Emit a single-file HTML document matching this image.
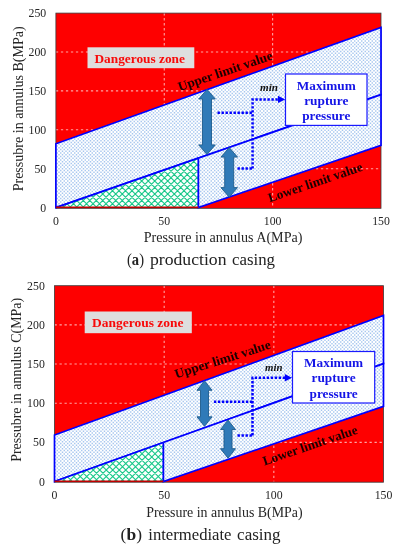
<!DOCTYPE html>
<html><head><meta charset="utf-8"><title>Figure</title>
<style>
html,body{margin:0;padding:0;background:#fff;}
body{width:400px;height:550px;overflow:hidden;font-family:"Liberation Serif",serif;}
svg{display:block}
.grid{stroke:#ffffff;stroke-width:1.1;stroke-dasharray:2.3 2.7;opacity:.64}
.band{fill:url(#dots);stroke:#0000ff;stroke-width:1.7;stroke-linejoin:miter}
.bl{stroke:#0000ff;stroke-width:1.7}
.tick{font:11.8px "Liberation Serif",serif;fill:#262626}
.axt{font:14px "Liberation Serif",serif;fill:#262626}
.ayt{font:14px "Liberation Serif",serif;fill:#262626}
.dz{font:bold 13.2px "Liberation Serif",serif;fill:#f80a0a}
.lim{font:bold 13px "Liberation Serif",serif;fill:#1a0000}
.min{font:italic bold 10.5px "Liberation Serif",serif;fill:#111}
.mx{font:bold 13.2px "Liberation Serif",serif;fill:#1414e6}
.dot{fill:none;stroke:#0000ff;stroke-width:2.5;stroke-dasharray:2.4 1.6}
.cap{font:15.7px "Liberation Serif",serif;fill:#222}
</style></head><body>
<svg width="400" height="550" viewBox="0 0 400 550">
<defs>
<pattern id="dots" width="7" height="7" patternUnits="userSpaceOnUse">
<rect width="7" height="7" fill="#ffffff"/>
<path d="M-1.2,0.05h1.4v1.4h-1.4zM-1.2,3.55h1.4v1.4h-1.4zM0.55,1.8h1.4v1.4h-1.4zM0.55,5.3h1.4v1.4h-1.4zM2.3,0.05h1.4v1.4h-1.4zM2.3,3.55h1.4v1.4h-1.4zM4.05,1.8h1.4v1.4h-1.4zM4.05,5.3h1.4v1.4h-1.4zM5.8,0.05h1.4v1.4h-1.4zM5.8,3.55h1.4v1.4h-1.4z" fill="#a6c6ef"/>
</pattern>
</defs>
<rect width="400" height="550" fill="#ffffff"/>
<rect x="55.9" y="13.1" width="325.1" height="195.2" fill="#fe0000"/>
<line x1="55.9" y1="168.70" x2="381" y2="168.70" class="grid"/>
<line x1="55.9" y1="129.80" x2="381" y2="129.80" class="grid"/>
<line x1="55.9" y1="90.90" x2="381" y2="90.90" class="grid"/>
<line x1="55.9" y1="52.00" x2="381" y2="52.00" class="grid"/>
<line x1="164.27" y1="13.1" x2="164.27" y2="207.6" class="grid"/>
<line x1="272.63" y1="13.1" x2="272.63" y2="207.6" class="grid"/>
<rect x="55.9" y="13.1" width="325.1" height="195.2" fill="none" stroke="#3a3a3a" stroke-width="0.8"/>
<polygon points="55.90,207.60 55.90,143.80 381.00,27.42 381.00,94.63" class="band"/>
<polygon points="198.29,207.60 198.29,158.12 381.00,94.63 381.00,145.36" class="band"/>
<clipPath id="tri1"><polygon points="55.90,207.60 198.29,158.12 198.29,207.60"/></clipPath>
<polygon points="55.90,207.60 198.29,158.12 198.29,207.60" fill="#fbfffd" stroke="none"/>
<path d="M53.90,2.15L200.29,148.54M53.90,8.65L200.29,155.04M53.90,15.15L200.29,161.54M53.90,21.65L200.29,168.04M53.90,28.15L200.29,174.54M53.90,34.65L200.29,181.04M53.90,41.15L200.29,187.54M53.90,47.65L200.29,194.04M53.90,54.15L200.29,200.54M53.90,60.65L200.29,207.04M53.90,67.15L200.29,213.54M53.90,73.65L200.29,220.04M53.90,80.15L200.29,226.54M53.90,86.65L200.29,233.04M53.90,93.15L200.29,239.54M53.90,99.65L200.29,246.04M53.90,106.15L200.29,252.54M53.90,112.65L200.29,259.04M53.90,119.15L200.29,265.54M53.90,125.65L200.29,272.04M53.90,132.15L200.29,278.54M53.90,138.65L200.29,285.04M53.90,145.15L200.29,291.54M53.90,151.65L200.29,298.04M53.90,158.15L200.29,304.54M53.90,164.65L200.29,311.04M53.90,171.15L200.29,317.54M53.90,177.65L200.29,324.04M53.90,184.15L200.29,330.54M53.90,190.65L200.29,337.04M53.90,197.15L200.29,343.54M53.90,203.65L200.29,350.04M53.90,210.15L200.29,356.54M53.90,216.65L200.29,363.04M53.90,151.85L200.29,5.46M53.90,158.35L200.29,11.96M53.90,164.85L200.29,18.46M53.90,171.35L200.29,24.96M53.90,177.85L200.29,31.46M53.90,184.35L200.29,37.96M53.90,190.85L200.29,44.46M53.90,197.35L200.29,50.96M53.90,203.85L200.29,57.46M53.90,210.35L200.29,63.96M53.90,216.85L200.29,70.46M53.90,223.35L200.29,76.96M53.90,229.85L200.29,83.46M53.90,236.35L200.29,89.96M53.90,242.85L200.29,96.46M53.90,249.35L200.29,102.96M53.90,255.85L200.29,109.46M53.90,262.35L200.29,115.96M53.90,268.85L200.29,122.46M53.90,275.35L200.29,128.96M53.90,281.85L200.29,135.46M53.90,288.35L200.29,141.96M53.90,294.85L200.29,148.46M53.90,301.35L200.29,154.96M53.90,307.85L200.29,161.46M53.90,314.35L200.29,167.96M53.90,320.85L200.29,174.46M53.90,327.35L200.29,180.96M53.90,333.85L200.29,187.46M53.90,340.35L200.29,193.96M53.90,346.85L200.29,200.46M53.90,353.35L200.29,206.96M53.90,359.85L200.29,213.46" clip-path="url(#tri1)" stroke="#16c788" stroke-width="1.1" fill="none"/>
<line x1="55.90" y1="207.60" x2="198.29" y2="158.12" class="bl"/>
<line x1="198.29" y1="207.60" x2="198.29" y2="158.12" class="bl"/>
<line x1="55.90" y1="207.30" x2="198.29" y2="207.30" stroke="#c00000" stroke-width="1.6"/>
<text x="46.2" y="211.70" class="tick" text-anchor="end">0</text>
<text x="46.2" y="172.80" class="tick" text-anchor="end">50</text>
<text x="46.2" y="133.90" class="tick" text-anchor="end">100</text>
<text x="46.2" y="95.00" class="tick" text-anchor="end">150</text>
<text x="46.2" y="56.10" class="tick" text-anchor="end">200</text>
<text x="46.2" y="17.20" class="tick" text-anchor="end">250</text>
<text x="55.90" y="225.1" class="tick" text-anchor="middle">0</text>
<text x="164.27" y="225.1" class="tick" text-anchor="middle">50</text>
<text x="272.63" y="225.1" class="tick" text-anchor="middle">100</text>
<text x="381.00" y="225.1" class="tick" text-anchor="middle">150</text>
<text transform="translate(23,108.85) rotate(-90)" class="ayt" text-anchor="middle" textLength="165" lengthAdjust="spacingAndGlyphs">Pressubre in annulus B(MPa)</text>
<text x="223.1" y="242" class="axt" text-anchor="middle" textLength="158.7" lengthAdjust="spacingAndGlyphs">Pressure in annulus A(MPa)</text>
<rect x="87.5" y="47.3" width="106.80000000000001" height="20.900000000000006" fill="#dedede"/>
<text x="139.70000000000002" y="63.2" class="dz" text-anchor="middle" textLength="90.5" lengthAdjust="spacingAndGlyphs">Dangerous zone</text>
<text transform="translate(179.8,91.2) rotate(-18.9)" class="lim" textLength="99" lengthAdjust="spacingAndGlyphs">Upper limit value</text>
<text transform="translate(269.7,202.3) rotate(-18.8)" class="lim" textLength="99" lengthAdjust="spacingAndGlyphs">Lower limit value</text>
<polygon points="207.00,89.40 215.30,99.00 211.50,99.00 211.50,144.90 215.30,144.90 207.00,154.50 198.70,144.90 202.50,144.90 202.50,99.00 198.70,99.00" fill="#2f7ab8" stroke="#1f5c8c" stroke-width="0.9"/>
<polygon points="229.20,147.50 237.50,157.10 233.70,157.10 233.70,187.60 237.50,187.60 229.20,197.20 220.90,187.60 224.70,187.60 224.70,157.10 220.90,157.10" fill="#2f7ab8" stroke="#1f5c8c" stroke-width="0.9"/>
<path d="M217.5,112.8 H252.6 M237.5,168.6 H252.6 M252.6,168.6 V99.4 H280.2" class="dot"/>
<polygon points="285.2,99.4 278.0,95.7 278.0,103.10000000000001" fill="#0000ff"/>
<text x="260" y="91" class="min" textLength="18" lengthAdjust="spacingAndGlyphs">min</text>
<rect x="285.5" y="74" width="81.5" height="51.400000000000006" fill="#ffffff" stroke="#1a1aff" stroke-width="1.2"/>
<text x="326.25" y="89.70" class="mx" text-anchor="middle" textLength="59" lengthAdjust="spacingAndGlyphs">Maximum</text>
<text x="326.25" y="105.00" class="mx" text-anchor="middle" textLength="44.2" lengthAdjust="spacingAndGlyphs">rupture</text>
<text x="326.25" y="120.30" class="mx" text-anchor="middle" textLength="48.2" lengthAdjust="spacingAndGlyphs">pressure</text>
<text y="264.8" class="cap"><tspan x="127" textLength="17" lengthAdjust="spacingAndGlyphs">(<tspan font-weight="bold">a</tspan>)</tspan> <tspan x="150" textLength="76.5" lengthAdjust="spacingAndGlyphs">production</tspan> <tspan x="232" textLength="43" lengthAdjust="spacingAndGlyphs">casing</tspan></text>
<rect x="54.5" y="285.7" width="329.0" height="196.5" fill="#fe0000"/>
<line x1="54.5" y1="442.34" x2="383.5" y2="442.34" class="grid"/>
<line x1="54.5" y1="403.18" x2="383.5" y2="403.18" class="grid"/>
<line x1="54.5" y1="364.02" x2="383.5" y2="364.02" class="grid"/>
<line x1="54.5" y1="324.86" x2="383.5" y2="324.86" class="grid"/>
<line x1="164.17" y1="285.7" x2="164.17" y2="481.5" class="grid"/>
<line x1="273.83" y1="285.7" x2="273.83" y2="481.5" class="grid"/>
<rect x="54.5" y="285.7" width="329.0" height="196.5" fill="none" stroke="#3a3a3a" stroke-width="0.8"/>
<polygon points="54.50,481.50 54.50,435.06 383.50,315.46 383.50,363.63" class="band"/>
<polygon points="163.29,481.50 163.29,442.52 383.50,363.63 383.50,406.31" class="band"/>
<clipPath id="tri2"><polygon points="54.50,481.50 163.29,442.52 163.29,481.50"/></clipPath>
<polygon points="54.50,481.50 163.29,442.52 163.29,481.50" fill="#fbfffd" stroke="none"/>
<path d="M52.50,318.75L165.29,431.54M52.50,325.25L165.29,438.04M52.50,331.75L165.29,444.54M52.50,338.25L165.29,451.04M52.50,344.75L165.29,457.54M52.50,351.25L165.29,464.04M52.50,357.75L165.29,470.54M52.50,364.25L165.29,477.04M52.50,370.75L165.29,483.54M52.50,377.25L165.29,490.04M52.50,383.75L165.29,496.54M52.50,390.25L165.29,503.04M52.50,396.75L165.29,509.54M52.50,403.25L165.29,516.04M52.50,409.75L165.29,522.54M52.50,416.25L165.29,529.04M52.50,422.75L165.29,535.54M52.50,429.25L165.29,542.04M52.50,435.75L165.29,548.54M52.50,442.25L165.29,555.04M52.50,448.75L165.29,561.54M52.50,455.25L165.29,568.04M52.50,461.75L165.29,574.54M52.50,468.25L165.29,581.04M52.50,474.75L165.29,587.54M52.50,481.25L165.29,594.04M52.50,487.75L165.29,600.54M52.50,432.75L165.29,319.96M52.50,439.25L165.29,326.46M52.50,445.75L165.29,332.96M52.50,452.25L165.29,339.46M52.50,458.75L165.29,345.96M52.50,465.25L165.29,352.46M52.50,471.75L165.29,358.96M52.50,478.25L165.29,365.46M52.50,484.75L165.29,371.96M52.50,491.25L165.29,378.46M52.50,497.75L165.29,384.96M52.50,504.25L165.29,391.46M52.50,510.75L165.29,397.96M52.50,517.25L165.29,404.46M52.50,523.75L165.29,410.96M52.50,530.25L165.29,417.46M52.50,536.75L165.29,423.96M52.50,543.25L165.29,430.46M52.50,549.75L165.29,436.96M52.50,556.25L165.29,443.46M52.50,562.75L165.29,449.96M52.50,569.25L165.29,456.46M52.50,575.75L165.29,462.96M52.50,582.25L165.29,469.46M52.50,588.75L165.29,475.96M52.50,595.25L165.29,482.46M52.50,601.75L165.29,488.96" clip-path="url(#tri2)" stroke="#16c788" stroke-width="1.1" fill="none"/>
<line x1="54.50" y1="481.50" x2="163.29" y2="442.52" class="bl"/>
<line x1="163.29" y1="481.50" x2="163.29" y2="442.52" class="bl"/>
<line x1="54.50" y1="481.20" x2="163.29" y2="481.20" stroke="#c00000" stroke-width="1.6"/>
<text x="44.8" y="485.60" class="tick" text-anchor="end">0</text>
<text x="44.8" y="446.44" class="tick" text-anchor="end">50</text>
<text x="44.8" y="407.28" class="tick" text-anchor="end">100</text>
<text x="44.8" y="368.12" class="tick" text-anchor="end">150</text>
<text x="44.8" y="328.96" class="tick" text-anchor="end">200</text>
<text x="44.8" y="289.80" class="tick" text-anchor="end">250</text>
<text x="54.50" y="499.0" class="tick" text-anchor="middle">0</text>
<text x="164.17" y="499.0" class="tick" text-anchor="middle">50</text>
<text x="273.83" y="499.0" class="tick" text-anchor="middle">100</text>
<text x="383.50" y="499.0" class="tick" text-anchor="middle">150</text>
<text transform="translate(21.2,379.80) rotate(-90)" class="ayt" text-anchor="middle" textLength="164" lengthAdjust="spacingAndGlyphs">Pressubre in annulus C(MPa)</text>
<text x="224.4" y="517.3" class="axt" text-anchor="middle" textLength="156.5" lengthAdjust="spacingAndGlyphs">Pressure in annulus B(MPa)</text>
<rect x="84.7" y="311.5" width="107.10000000000001" height="21.69999999999999" fill="#dedede"/>
<text x="137.75" y="327.3" class="dz" text-anchor="middle" textLength="91.5" lengthAdjust="spacingAndGlyphs">Dangerous zone</text>
<text transform="translate(176.3,378.5) rotate(-17.6)" class="lim" textLength="100" lengthAdjust="spacingAndGlyphs">Upper limit value</text>
<text transform="translate(264.4,465.6) rotate(-18.9)" class="lim" textLength="99.5" lengthAdjust="spacingAndGlyphs">Lower limit value</text>
<polygon points="204.50,380.80 212.00,390.30 208.50,390.30 208.50,416.80 212.00,416.80 204.50,426.30 197.00,416.80 200.50,416.80 200.50,390.30 197.00,390.30" fill="#2f7ab8" stroke="#1f5c8c" stroke-width="0.9"/>
<polygon points="228.00,420.00 235.50,429.50 232.00,429.50 232.00,448.70 235.50,448.70 228.00,458.20 220.50,448.70 224.00,448.70 224.00,429.50 220.50,429.50" fill="#2f7ab8" stroke="#1f5c8c" stroke-width="0.9"/>
<path d="M213.9,401.8 H252.5 M237.5,435.5 H252.5 M252.5,435.5 V377.7 H287" class="dot"/>
<polygon points="292,377.7 284.8,374.0 284.8,381.4" fill="#0000ff"/>
<text x="265" y="370.5" class="min" textLength="17.5" lengthAdjust="spacingAndGlyphs">min</text>
<rect x="292.5" y="351.5" width="82.19999999999999" height="51.5" fill="#ffffff" stroke="#1a1aff" stroke-width="1.2"/>
<text x="333.6" y="366.90" class="mx" text-anchor="middle" textLength="59" lengthAdjust="spacingAndGlyphs">Maximum</text>
<text x="333.6" y="382.40" class="mx" text-anchor="middle" textLength="44.2" lengthAdjust="spacingAndGlyphs">rupture</text>
<text x="333.6" y="397.90" class="mx" text-anchor="middle" textLength="48.2" lengthAdjust="spacingAndGlyphs">pressure</text>
<text y="539.8" class="cap"><tspan x="120.6" textLength="21.4" lengthAdjust="spacingAndGlyphs">(<tspan font-weight="bold">b</tspan>)</tspan> <tspan x="148.3" textLength="83.2" lengthAdjust="spacingAndGlyphs">intermediate</tspan> <tspan x="237.1" textLength="43.5" lengthAdjust="spacingAndGlyphs">casing</tspan></text>
</svg>
</body></html>
